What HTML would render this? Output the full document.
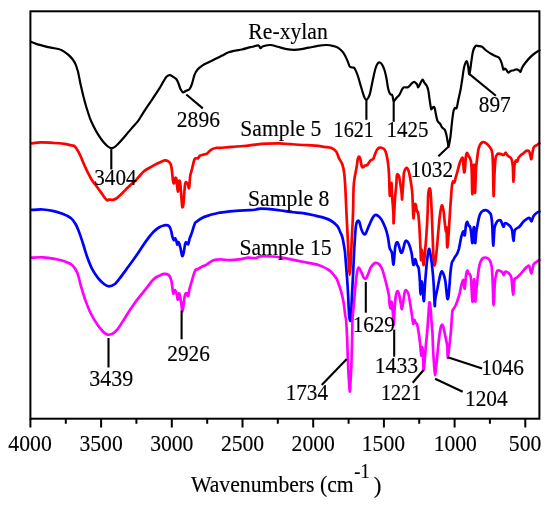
<!DOCTYPE html>
<html><head><meta charset="utf-8"><style>
html,body{margin:0;padding:0;background:#fff;}
svg{display:block;}
text{font-family:"Liberation Serif",serif;font-size:23px;fill:#000;stroke:#000;stroke-width:0.15px;}
</style></head><body>
<svg width="550" height="506" viewBox="0 0 550 506">
<rect width="550" height="506" fill="#fff"/>

<path fill="none" stroke="#000" stroke-width="2.2" stroke-linejoin="round" stroke-linecap="round" d="M31.0,41.8C31.8,42.1 33.6,42.9 35.6,43.6C37.6,44.3 40.8,45.2 43.3,45.9C45.8,46.6 48.4,47.2 50.9,47.7C53.4,48.2 56.6,48.5 58.5,49.0C60.4,49.5 61.1,49.9 62.4,50.6C63.7,51.3 64.9,52.2 66.2,53.2C67.5,54.2 68.8,55.2 70.0,56.4C71.2,57.6 72.2,58.8 73.2,60.2C74.2,61.6 75.0,63.1 75.7,64.6C76.4,66.1 76.8,68.0 77.2,69.3C77.6,70.6 77.6,70.0 78.2,72.5C78.8,75.0 79.7,80.4 80.6,84.4C81.5,88.4 82.5,92.9 83.5,96.7C84.5,100.5 85.2,103.4 86.3,107.0C87.4,110.6 88.8,115.0 90.0,118.3C91.2,121.6 92.4,123.9 93.8,126.7C95.2,129.5 96.9,132.7 98.5,135.2C100.1,137.7 101.6,139.9 103.2,141.8C104.8,143.7 106.5,145.4 107.9,146.5C109.3,147.6 110.5,148.2 111.7,148.2C113.0,148.2 114.0,147.6 115.4,146.5C116.8,145.4 118.4,143.7 120.1,141.8C121.8,139.9 123.9,137.4 125.8,135.2C127.7,133.0 129.4,130.9 131.4,128.6C133.4,126.2 136.1,123.6 138.0,121.1C139.9,118.6 141.0,116.3 142.7,113.6C144.4,110.9 146.4,107.9 148.3,105.1C150.2,102.3 152.1,99.5 154.0,96.7C155.9,93.9 158.0,90.7 159.6,88.2C161.2,85.7 162.2,83.6 163.3,81.7C164.5,79.8 165.4,77.9 166.5,76.8C167.6,75.7 168.7,75.2 169.8,75.2C170.9,75.2 172.0,76.1 173.1,76.8C174.2,77.5 175.4,78.1 176.4,79.3C177.4,80.5 178.1,82.6 178.8,84.2C179.5,85.8 179.8,87.7 180.5,89.1C181.2,90.5 182.0,92.1 182.9,92.4C183.8,92.7 185.1,91.2 186.2,90.7C187.3,90.2 188.6,90.2 189.5,89.1C190.4,88.0 191.1,86.5 191.9,84.2C192.7,81.9 193.5,77.7 194.4,75.2C195.3,72.8 196.2,71.1 197.6,69.5C199.0,67.9 200.7,66.6 202.6,65.4C204.5,64.2 206.9,63.2 209.1,62.1C211.3,61.0 213.4,59.9 215.6,58.8C217.8,57.7 220.0,56.6 222.2,55.5C224.4,54.4 226.5,53.1 228.7,52.3C230.9,51.5 233.1,51.1 235.3,50.6C237.5,50.1 239.6,50.0 241.8,49.5C244.0,49.0 246.7,48.1 248.4,47.6C250.2,47.1 250.7,47.2 252.3,46.8C254.0,46.4 256.9,45.1 258.3,45.3C259.7,45.5 259.7,47.9 260.5,48.1C261.3,48.3 261.5,46.8 263.2,46.3C264.9,45.8 268.1,44.9 270.5,45.0C272.9,45.1 275.0,46.1 277.7,46.8C280.4,47.5 284.1,48.7 286.8,49.2C289.5,49.7 291.7,49.9 294.1,49.9C296.5,49.9 299.0,49.6 301.4,49.2C303.8,48.8 305.9,48.2 308.6,47.7C311.3,47.2 314.7,46.4 317.7,45.9C320.7,45.4 324.1,44.9 326.8,45.0C329.5,45.1 332.1,45.8 334.1,46.3C336.1,46.8 337.2,47.2 338.6,48.1C340.0,49.0 341.2,50.2 342.3,51.4C343.4,52.6 344.1,53.8 345.0,55.5C345.9,57.2 347.0,59.8 347.8,61.6C348.6,63.5 349.0,65.6 349.8,66.6C350.6,67.6 351.9,67.2 352.7,67.5C353.5,67.8 353.9,67.2 354.7,68.5C355.5,69.8 356.7,72.7 357.7,75.5C358.7,78.3 359.6,82.0 360.6,85.3C361.6,88.6 362.7,92.8 363.6,95.2C364.5,97.6 365.2,99.6 366.2,99.6C367.2,99.6 368.4,98.2 369.5,95.2C370.6,92.2 371.5,85.9 372.5,81.4C373.5,77.0 374.5,71.6 375.5,68.5C376.5,65.4 377.4,63.4 378.4,62.6C379.4,61.8 380.4,62.5 381.4,63.6C382.4,64.8 383.5,67.2 384.3,69.5C385.1,71.8 385.6,74.1 386.3,77.4C387.0,80.7 387.6,86.5 388.3,89.3C389.0,92.1 389.6,93.2 390.3,94.2C391.0,95.2 391.8,94.1 392.3,95.2C392.9,96.3 393.0,100.6 393.6,101.1C394.2,101.6 395.3,99.2 396.2,98.2C397.1,97.2 398.2,96.7 399.2,95.2C400.2,93.7 401.3,90.6 402.1,89.3C402.9,88.0 403.1,87.6 404.1,87.3C405.1,87.0 406.9,87.8 408.0,87.3C409.1,86.8 410.0,85.2 411.0,84.3C412.0,83.4 413.0,81.8 414.0,81.8C415.0,81.8 416.3,83.4 417.0,84.3C417.7,85.2 417.6,87.3 418.0,87.4C418.4,87.5 418.9,86.3 419.6,85.0C420.3,83.7 421.6,80.2 422.4,79.8C423.2,79.4 423.6,81.6 424.3,82.6C425.0,83.6 426.0,84.5 426.7,85.8C427.4,87.1 427.9,88.4 428.3,90.5C428.8,92.6 429.0,95.8 429.4,98.4C429.8,101.0 430.3,104.5 430.6,106.3C430.9,108.1 431.0,109.4 431.4,109.5C431.8,109.6 432.5,107.4 433.0,107.1C433.5,106.8 434.1,106.5 434.6,107.9C435.1,109.4 435.7,113.6 436.2,115.8C436.7,118.0 437.0,120.0 437.7,121.3C438.4,122.6 439.4,122.8 440.1,123.7C440.8,124.6 441.2,126.1 441.7,126.9C442.2,127.7 442.8,128.0 443.3,128.5C443.8,129.0 444.4,128.9 444.9,130.0C445.4,131.1 445.9,132.6 446.4,134.8C446.9,137.1 447.6,141.6 448.0,143.5C448.4,145.4 448.2,147.6 448.6,146.5C449.0,145.4 449.8,141.1 450.4,137.0C451.0,132.9 451.5,126.4 452.0,122.1C452.5,117.8 453.0,113.5 453.5,111.1C454.0,108.7 454.6,108.4 455.1,107.9C455.6,107.4 456.2,109.2 456.7,107.9C457.2,106.6 457.6,103.2 458.3,100.0C459.0,96.8 460.1,92.4 460.7,89.0C461.3,85.6 461.6,83.0 462.2,79.5C462.8,76.0 463.3,70.8 464.0,67.7C464.7,64.7 465.8,61.5 466.5,61.2C467.2,60.9 467.6,63.9 468.1,66.1C468.6,68.3 468.8,75.1 469.4,74.3C469.9,73.5 470.8,65.0 471.4,61.2C472.0,57.4 472.3,53.9 473.0,51.4C473.7,48.9 474.6,47.0 475.5,46.1C476.4,45.2 477.6,46.0 478.7,46.1C479.8,46.2 480.8,46.1 482.0,46.8C483.2,47.5 484.6,49.3 486.1,50.5C487.6,51.7 489.4,52.8 491.0,53.8C492.6,54.8 494.5,55.6 495.9,56.3C497.3,57.0 498.2,56.8 499.2,57.9C500.1,59.0 500.9,60.9 501.6,62.8C502.3,64.7 502.8,68.4 503.3,69.4C503.9,70.4 504.3,68.5 504.9,68.6C505.4,68.7 506.1,69.5 506.6,70.2C507.2,70.9 507.5,72.5 508.2,72.6C508.9,72.7 509.7,71.4 510.6,71.0C511.6,70.6 512.9,70.5 513.9,70.2C514.9,69.9 515.6,69.4 516.4,69.4C517.2,69.4 518.1,69.8 518.8,70.2C519.5,70.6 520.0,72.2 520.5,71.8C521.0,71.4 521.3,69.2 522.1,67.7C522.9,66.2 524.0,64.6 525.4,62.8C526.8,61.0 528.7,58.7 530.3,57.1C531.9,55.5 533.7,54.1 535.2,53.0C536.7,51.9 538.7,50.8 539.4,50.4"/>
<path fill="none" stroke="#ff0000" stroke-width="2.7" stroke-linejoin="round" stroke-linecap="round" d="M31.9,143.4C33.4,143.2 37.0,142.4 40.8,142.3C44.6,142.2 50.6,142.8 54.6,143.0C58.6,143.2 61.9,143.5 64.5,143.8C67.1,144.2 68.4,144.8 70.0,145.1C71.6,145.4 72.8,145.2 73.9,145.8C75.0,146.4 75.6,147.2 76.4,148.4C77.2,149.6 78.1,151.2 79.0,152.9C79.9,154.6 80.8,156.7 81.6,158.6C82.4,160.5 83.2,162.5 84.1,164.4C84.9,166.3 85.8,168.4 86.7,170.2C87.6,172.0 88.3,173.5 89.3,175.3C90.3,177.1 91.5,179.6 92.5,181.1C93.5,182.6 94.1,183.0 95.1,184.3C96.1,185.6 97.1,187.2 98.3,188.8C99.5,190.4 100.9,192.4 102.1,194.0C103.3,195.6 104.4,197.4 105.3,198.5C106.2,199.6 106.8,200.2 107.3,200.4C107.8,200.6 107.8,199.7 108.6,199.6C109.4,199.5 111.1,200.0 112.4,199.8C113.7,199.6 115.0,199.2 116.3,198.5C117.6,197.8 118.8,196.5 120.1,195.3C121.4,194.1 122.7,192.7 124.0,191.4C125.3,190.1 126.5,188.8 127.8,187.6C129.1,186.4 130.2,185.2 131.5,184.0C132.8,182.8 133.8,182.5 135.8,180.4C137.8,178.3 141.1,173.8 143.7,171.5C146.3,169.2 149.0,168.1 151.6,166.6C154.2,165.1 157.3,163.6 159.5,162.6C161.7,161.6 163.2,160.6 164.7,160.4C166.2,160.2 167.3,160.7 168.3,161.3C169.3,161.9 170.1,162.7 170.7,164.2C171.3,165.7 171.5,167.4 171.9,170.2C172.3,173.0 172.6,178.6 173.0,180.8C173.4,183.0 173.8,183.7 174.2,183.2C174.6,182.7 175.0,178.4 175.4,177.9C175.8,177.4 176.2,177.9 176.6,180.2C177.0,182.5 177.4,191.3 177.8,191.5C178.2,191.7 178.6,182.8 179.0,181.4C179.4,180.0 179.8,180.5 180.2,183.2C180.6,185.9 181.1,193.4 181.4,197.4C181.8,201.4 182.0,205.9 182.3,206.9C182.7,207.9 183.1,207.0 183.5,203.4C183.9,199.8 184.5,189.2 184.9,185.6C185.3,182.0 185.6,182.2 186.1,182.0C186.6,181.8 187.4,183.4 187.9,184.4C188.4,185.4 188.7,189.4 189.1,188.0C189.5,186.6 189.7,179.3 190.2,176.1C190.7,172.9 191.3,171.8 192.0,169.0C192.7,166.2 193.7,161.3 194.4,159.5C195.1,157.7 195.6,158.5 196.2,158.3C196.8,158.1 197.4,158.7 198.0,158.3C198.6,157.9 198.9,156.5 199.7,155.9C200.5,155.3 201.8,155.1 203.0,154.7C204.2,154.3 205.7,154.5 207.0,153.7C208.3,152.9 209.3,150.8 210.9,149.8C212.5,148.8 215.3,148.1 216.8,147.8C218.3,147.5 217.5,148.1 220.0,147.9C222.5,147.7 228.0,147.1 231.9,146.8C235.8,146.5 239.8,146.4 243.7,146.0C247.6,145.6 251.7,145.0 255.6,144.6C259.6,144.2 263.4,143.9 267.4,143.7C271.3,143.5 275.4,143.3 279.3,143.4C283.2,143.5 287.2,143.9 291.1,144.2C295.1,144.5 299.0,144.8 303.0,145.0C307.0,145.2 311.3,145.3 314.9,145.6C318.4,145.9 321.5,146.4 324.3,146.8C327.1,147.2 329.5,147.1 331.5,147.9C333.5,148.7 335.0,149.9 336.2,151.5C337.4,153.1 338.0,156.0 338.6,157.4C339.2,158.8 339.4,158.8 340.0,160.0C340.6,161.2 341.7,162.3 342.4,164.5C343.1,166.7 343.7,169.4 344.2,173.2C344.7,177.0 344.9,180.7 345.3,187.4C345.7,194.2 346.1,205.4 346.5,213.7C346.9,222.0 347.2,227.2 347.7,237.4C348.2,247.6 349.0,274.8 349.7,274.8C350.4,274.8 351.3,247.6 351.9,237.4C352.4,227.2 352.7,222.0 353.0,213.7C353.3,205.4 353.3,193.6 353.6,187.4C353.9,181.2 354.3,180.2 354.8,176.8C355.3,173.5 356.1,170.3 356.6,167.3C357.1,164.3 357.4,160.8 357.8,159.0C358.2,157.2 358.6,156.7 359.0,156.6C359.4,156.5 359.7,156.7 360.2,158.4C360.7,160.1 361.3,165.3 361.9,166.7C362.5,168.1 363.2,166.9 363.7,166.7C364.2,166.5 364.3,165.8 364.9,165.5C365.5,165.2 366.6,165.4 367.3,164.9C368.0,164.4 368.4,163.3 369.0,162.5C369.6,161.7 370.1,160.8 370.8,160.2C371.5,159.6 372.5,160.0 373.2,159.0C373.9,158.0 374.4,155.7 375.0,154.2C375.6,152.7 376.1,151.2 376.8,150.1C377.5,149.0 378.3,148.1 379.1,147.7C379.9,147.3 380.7,147.5 381.5,147.7C382.3,147.9 383.2,148.2 383.9,148.9C384.6,149.6 385.1,150.2 385.7,151.9C386.3,153.6 386.9,156.2 387.4,159.0C387.9,161.8 388.3,165.2 388.6,168.5C388.9,171.8 389.0,174.6 389.2,179.1C389.4,183.6 389.5,194.7 389.8,195.7C390.1,196.7 390.7,187.1 391.0,185.1C391.3,183.1 391.4,181.9 391.6,183.9C391.8,185.9 391.9,191.9 392.2,196.9C392.5,201.9 393.2,209.3 393.4,213.7C393.6,218.1 393.4,224.2 393.6,223.2C393.8,222.2 394.2,212.2 394.5,207.8C394.8,203.5 394.8,200.9 395.1,197.1C395.4,193.3 396.0,188.6 396.3,185.0C396.6,181.4 396.5,177.4 396.8,175.6C397.1,173.8 397.6,174.2 398.0,174.4C398.4,174.6 398.8,175.2 399.2,176.8C399.6,178.4 399.9,181.4 400.3,183.9C400.7,186.4 401.2,189.4 401.5,192.0C401.8,194.6 401.9,199.8 402.1,199.5C402.3,199.2 402.5,192.8 402.7,190.0C402.9,187.2 403.1,185.5 403.3,182.7C403.5,179.9 403.5,175.6 403.9,173.2C404.3,170.8 405.1,169.3 405.7,168.5C406.3,167.7 406.9,167.7 407.5,168.5C408.1,169.3 408.6,170.8 409.2,173.2C409.8,175.6 410.5,179.5 411.0,182.7C411.5,185.9 411.9,188.6 412.2,192.2C412.5,195.8 412.6,199.8 412.8,204.2C413.0,208.6 413.1,218.3 413.4,218.5C413.7,218.7 414.2,207.7 414.6,205.4C415.0,203.1 415.4,203.8 415.8,204.8C416.2,205.8 416.5,210.0 416.9,211.3C417.3,212.6 417.7,210.1 418.1,212.5C418.5,214.9 418.9,220.2 419.3,225.6C419.7,231.0 420.0,239.3 420.3,245.0C420.6,250.7 420.8,259.2 421.0,260.0C421.2,260.8 421.6,250.8 421.8,250.0C422.1,249.2 422.2,252.5 422.5,255.0C422.8,257.5 423.2,264.5 423.5,265.0C423.8,265.5 424.2,260.5 424.5,258.0C424.8,255.5 424.9,253.8 425.2,250.0C425.5,246.2 426.0,241.1 426.4,235.0C426.8,228.9 427.3,220.4 427.6,213.7C427.9,207.0 427.9,199.2 428.2,195.0C428.5,190.8 429.0,189.1 429.4,188.6C429.8,188.1 430.2,188.0 430.6,192.2C431.0,196.4 431.3,202.8 431.8,213.7C432.3,224.6 433.0,249.2 433.5,257.8C434.0,266.4 434.3,265.5 434.7,265.5C435.1,265.5 435.5,261.1 435.9,257.8C436.3,254.5 436.7,250.3 437.1,245.9C437.5,241.5 437.8,236.9 438.3,231.5C438.8,226.1 439.5,218.0 440.1,213.7C440.7,209.3 441.2,205.8 441.8,205.4C442.4,205.0 443.1,208.3 443.6,211.3C444.1,214.3 444.4,219.8 444.8,223.2C445.2,226.6 445.7,230.7 446.0,231.5C446.3,232.3 446.4,225.4 446.6,228.0C446.8,230.6 446.9,245.5 447.2,247.1C447.5,248.7 448.0,242.0 448.4,237.4C448.8,232.8 449.1,225.5 449.5,219.6C449.9,213.7 450.3,207.4 450.7,201.9C451.1,196.4 451.5,189.8 451.9,186.4C452.3,183.0 452.7,181.9 453.1,181.3C453.5,180.7 454.0,183.2 454.4,182.6C454.8,181.9 455.2,179.3 455.7,177.4C456.2,175.5 457.0,173.3 457.6,171.0C458.2,168.7 459.0,165.3 459.6,163.3C460.2,161.3 461.0,159.7 461.5,158.8C462.0,157.9 462.5,157.1 462.8,158.1C463.1,159.1 463.2,162.2 463.4,164.6C463.6,167.0 463.8,171.7 464.1,172.3C464.4,172.9 464.7,171.2 465.0,168.4C465.3,165.6 465.6,158.2 466.0,155.6C466.4,153.0 466.9,152.9 467.3,153.0C467.7,153.1 468.2,155.3 468.6,156.2C469.0,157.0 469.5,157.1 469.9,158.1C470.3,159.1 470.8,159.4 471.1,162.0C471.4,164.6 471.6,168.2 471.8,173.6C472.0,178.9 472.1,194.8 472.4,194.1C472.7,193.4 473.1,174.3 473.4,169.7C473.7,165.1 474.0,162.7 474.3,166.5C474.6,170.3 474.7,192.3 475.0,192.8C475.3,193.3 475.7,175.0 476.0,169.7C476.3,164.3 476.5,163.9 476.9,160.7C477.3,157.5 477.7,153.1 478.2,150.4C478.7,147.7 479.4,146.0 480.1,144.6C480.9,143.2 481.8,142.4 482.7,142.1C483.6,141.8 484.4,142.3 485.3,142.7C486.2,143.1 487.0,143.7 487.8,144.6C488.6,145.5 489.6,146.5 490.4,147.9C491.1,149.3 491.9,149.8 492.3,153.0C492.7,156.2 492.8,159.9 493.0,167.1C493.2,174.3 493.4,195.0 493.6,196.1C493.9,197.2 494.2,179.9 494.5,173.6C494.8,167.3 495.2,161.2 495.6,158.1C496.0,155.0 496.4,155.8 496.8,155.0C497.2,154.2 497.5,153.8 498.2,153.6C498.9,153.4 500.0,153.9 500.9,154.1C501.8,154.3 502.8,155.2 503.6,155.0C504.4,154.8 505.0,152.8 505.5,152.7C506.0,152.6 506.3,153.9 506.8,154.5C507.3,155.1 508.0,155.9 508.6,156.4C509.2,156.9 510.0,157.1 510.5,157.7C511.0,158.3 511.4,158.6 511.8,160.0C512.2,161.4 512.5,162.4 512.8,166.0C513.1,169.6 513.2,181.8 513.5,181.6C513.8,181.4 514.1,168.5 514.5,165.0C514.9,161.5 515.4,161.1 515.9,160.5C516.4,159.9 516.8,161.9 517.3,161.4C517.8,160.9 518.0,158.8 518.6,157.7C519.2,156.6 520.1,155.8 520.9,155.0C521.7,154.2 522.7,153.9 523.6,153.2C524.5,152.5 525.5,151.2 526.4,150.9C527.3,150.6 528.4,150.5 529.1,151.4C529.8,152.3 530.1,155.1 530.5,156.4C530.9,157.7 531.1,159.6 531.4,159.1C531.7,158.6 531.9,155.5 532.3,153.6C532.7,151.7 533.1,149.0 533.6,147.7C534.1,146.4 534.7,146.5 535.5,145.9C536.3,145.3 537.6,144.5 538.2,144.1C538.9,143.7 539.2,143.6 539.4,143.5"/>
<path fill="none" stroke="#0000ff" stroke-width="2.7" stroke-linejoin="round" stroke-linecap="round" d="M31.9,209.9C33.7,209.8 39.3,209.3 42.8,209.5C46.3,209.7 49.4,210.2 52.7,210.9C56.0,211.6 59.5,212.7 62.5,213.8C65.5,215.0 68.3,216.2 70.5,217.8C72.7,219.5 73.9,221.2 75.4,223.7C76.9,226.2 78.0,229.1 79.3,232.6C80.6,236.1 82.0,240.4 83.3,244.5C84.6,248.6 85.8,253.2 87.3,257.3C88.8,261.4 90.4,265.7 92.2,269.2C94.0,272.7 96.1,275.6 98.1,278.1C100.1,280.6 102.2,282.6 104.0,284.0C105.8,285.4 107.2,286.4 109.0,286.4C110.8,286.4 113.1,285.4 114.9,284.0C116.7,282.6 117.7,280.9 119.9,278.1C122.1,275.3 124.9,271.4 127.9,267.3C130.9,263.2 134.8,257.8 137.8,253.5C140.8,249.2 143.1,245.2 145.7,241.6C148.3,238.0 151.2,234.1 153.6,231.7C156.0,229.2 158.3,227.9 160.0,226.9C161.7,225.9 162.7,225.7 164.0,225.4C165.3,225.2 166.9,225.1 167.9,225.4C168.9,225.7 169.3,226.3 169.9,227.4C170.5,228.5 171.0,230.2 171.4,231.8C171.8,233.4 172.0,235.3 172.4,236.7C172.8,238.1 173.3,239.9 173.8,240.2C174.3,240.4 174.9,238.1 175.3,238.2C175.7,238.3 176.0,239.6 176.3,240.7C176.6,241.8 177.0,244.3 177.3,244.6C177.6,244.8 178.0,242.3 178.3,242.2C178.6,242.0 178.9,242.5 179.3,243.7C179.7,244.9 180.3,247.5 180.8,249.6C181.3,251.7 181.7,255.5 182.2,256.0C182.7,256.5 183.2,254.6 183.7,252.5C184.2,250.4 184.8,245.4 185.2,243.7C185.6,242.0 185.7,242.1 186.2,242.2C186.7,242.3 187.6,244.8 188.2,244.2C188.8,243.6 189.1,240.3 189.6,238.7C190.1,237.1 190.5,236.5 191.1,234.8C191.7,233.2 192.4,230.8 193.1,228.8C193.8,226.8 194.4,224.1 195.1,222.9C195.8,221.7 196.4,221.9 197.1,221.4C197.8,220.9 198.0,220.6 199.0,219.9C200.0,219.2 201.7,218.2 203.0,217.5C204.3,216.8 205.7,216.4 207.0,216.0C208.3,215.6 209.3,215.2 210.9,214.8C212.5,214.4 214.9,213.7 216.8,213.3C218.7,212.9 219.1,212.7 222.3,212.3C225.5,211.9 231.4,211.2 235.9,210.9C240.4,210.6 246.2,210.4 249.5,210.2C252.8,210.0 254.2,209.8 256.0,209.5C257.8,209.2 257.3,208.7 260.4,208.7C263.5,208.7 269.4,209.0 274.5,209.6C279.6,210.2 286.4,211.4 291.1,212.0C295.9,212.6 299.0,212.6 303.0,213.2C307.0,213.8 311.3,214.7 314.9,215.5C318.4,216.3 321.5,217.0 324.3,217.9C327.1,218.8 329.3,219.6 331.5,221.0C333.7,222.4 336.0,224.4 337.4,226.2C338.8,227.9 339.2,229.6 340.0,231.5C340.8,233.4 341.6,234.3 342.4,237.4C343.2,240.5 344.2,246.9 344.7,250.0C345.2,253.1 344.8,249.6 345.3,255.8C345.8,262.0 347.1,277.4 347.7,287.4C348.3,297.4 348.7,310.5 349.2,315.9C349.7,321.3 350.5,321.9 350.9,319.8C351.3,317.7 351.2,311.2 351.6,303.2C352.0,295.2 352.7,281.3 353.2,271.6C353.7,261.9 354.0,252.7 354.5,245.0C355.0,237.3 355.4,229.6 356.0,225.6C356.6,221.6 357.2,221.3 357.8,220.8C358.4,220.3 359.0,221.2 359.6,222.6C360.2,224.0 360.6,227.2 361.3,229.1C362.0,231.0 363.0,233.1 363.7,233.9C364.4,234.7 364.9,234.6 365.5,233.9C366.1,233.2 366.6,231.3 367.3,229.7C368.0,228.1 368.8,226.2 369.6,224.4C370.4,222.6 371.2,220.5 372.0,219.0C372.8,217.5 373.6,216.2 374.4,215.5C375.2,214.8 376.0,214.9 376.8,215.1C377.6,215.3 378.3,215.9 379.1,216.7C379.9,217.4 380.7,218.3 381.5,219.6C382.3,220.9 383.1,222.6 383.9,224.4C384.7,226.2 385.5,228.1 386.2,230.3C386.9,232.5 387.4,234.5 388.0,237.4C388.6,240.3 389.0,245.4 389.6,247.9C390.2,250.4 391.2,249.8 391.9,252.6C392.5,255.4 393.0,265.3 393.5,264.5C394.0,263.7 394.6,251.6 395.1,247.9C395.7,244.2 396.2,242.9 396.8,242.4C397.4,241.9 397.9,243.0 398.6,244.7C399.3,246.4 400.2,251.5 400.9,252.5C401.6,253.5 402.0,252.5 402.7,250.7C403.4,248.9 404.4,243.4 405.1,241.8C405.8,240.2 406.2,240.7 406.9,241.2C407.6,241.7 408.4,242.7 409.2,244.7C410.0,246.7 410.9,249.6 411.6,253.0C412.3,256.4 412.8,263.9 413.4,264.9C414.0,265.9 414.6,259.0 415.2,259.0C415.8,259.0 416.3,263.3 416.9,264.9C417.5,266.5 418.2,265.7 418.7,268.5C419.2,271.3 419.6,277.2 419.9,281.5C420.2,285.8 420.2,294.5 420.5,294.5C420.8,294.5 421.3,282.1 421.7,281.5C422.1,280.9 422.6,288.0 422.9,291.0C423.2,294.0 423.3,298.1 423.5,299.5C423.7,300.9 423.8,302.3 424.1,299.3C424.4,296.3 424.7,287.8 425.2,281.5C425.7,275.2 426.4,266.6 427.0,261.3C427.6,256.0 428.3,251.1 428.8,249.5C429.3,247.9 429.5,249.5 430.0,251.9C430.5,254.3 431.2,258.8 431.8,263.7C432.4,268.6 433.0,274.6 433.5,281.5C434.0,288.4 434.4,302.4 434.7,305.4C435.0,308.4 434.8,302.3 435.3,299.3C435.8,296.3 436.9,291.3 437.7,287.4C438.5,283.4 439.4,278.3 440.1,275.6C440.8,272.9 441.2,271.6 441.8,271.4C442.4,271.2 443.0,272.7 443.6,274.4C444.2,276.1 444.8,277.6 445.4,281.5C446.0,285.4 446.7,295.1 447.2,297.7C447.7,300.3 448.0,299.0 448.4,296.9C448.8,294.8 449.1,289.1 449.5,285.0C449.9,280.9 450.1,275.7 450.5,272.0C450.9,268.3 451.4,264.9 451.8,263.0C452.2,261.1 452.6,261.5 453.1,260.4C453.7,259.3 454.5,257.7 455.1,256.6C455.8,255.5 456.4,255.3 457.0,254.0C457.6,252.7 458.2,251.4 458.9,248.8C459.5,246.2 460.4,241.1 460.9,238.6C461.4,236.1 461.7,235.3 462.1,234.1C462.5,232.9 463.0,231.3 463.4,231.5C463.8,231.7 464.3,236.4 464.7,235.3C465.1,234.2 465.6,227.3 466.0,225.1C466.4,222.9 466.9,221.8 467.3,221.9C467.7,222.0 468.2,224.9 468.6,225.7C469.0,226.4 469.5,225.3 469.9,226.4C470.3,227.5 470.7,229.3 471.1,232.1C471.5,234.9 472.0,243.5 472.4,243.1C472.8,242.7 473.1,232.1 473.4,229.6C473.7,227.1 474.0,226.1 474.3,228.3C474.6,230.6 474.9,242.5 475.2,243.1C475.5,243.7 475.8,235.8 476.3,232.1C476.8,228.4 477.6,224.2 478.2,221.2C478.8,218.2 479.4,215.8 480.1,214.1C480.9,212.4 481.6,211.5 482.7,210.9C483.8,210.3 485.5,210.1 486.6,210.3C487.7,210.5 488.4,211.3 489.1,212.2C489.9,213.0 490.6,213.2 491.1,215.4C491.6,217.7 492.0,220.7 492.3,225.7C492.6,230.7 492.8,245.2 493.2,245.6C493.6,246.0 494.0,232.1 494.5,228.3C495.0,224.6 495.6,224.4 496.2,223.1C496.8,221.8 497.2,221.0 498.0,220.6C498.8,220.2 499.8,219.5 500.7,220.5C501.6,221.5 502.7,226.3 503.4,226.7C504.1,227.1 504.2,223.4 505.1,223.1C506.0,222.8 507.6,223.9 508.7,224.9C509.8,225.9 511.1,226.6 511.9,229.3C512.7,232.0 513.0,240.8 513.5,240.9C514.0,241.1 513.9,232.6 514.9,230.2C515.9,227.8 517.9,228.2 519.4,226.7C520.9,225.2 522.2,222.8 523.8,221.3C525.4,219.8 527.9,217.8 529.2,217.8C530.5,217.8 530.8,221.6 531.5,221.3C532.2,221.0 532.6,217.5 533.6,216.0C534.6,214.5 536.2,213.2 537.2,212.5C538.2,211.8 539.0,211.7 539.4,211.5"/>
<path fill="none" stroke="#ff00ff" stroke-width="2.7" stroke-linejoin="round" stroke-linecap="round" d="M31.9,257.7C33.7,257.6 39.0,257.1 42.8,257.3C46.6,257.5 51.0,258.2 54.6,258.9C58.2,259.6 61.5,260.2 64.5,261.3C67.5,262.4 70.2,263.2 72.4,265.2C74.6,267.2 76.0,269.7 77.4,273.1C78.8,276.5 79.5,281.1 80.9,285.8C82.3,290.6 84.2,297.0 85.9,301.6C87.6,306.2 89.0,309.9 90.8,313.5C92.6,317.1 94.7,320.4 96.7,323.4C98.7,326.4 100.9,329.4 102.7,331.3C104.5,333.2 106.0,334.2 107.6,334.6C109.2,335.0 110.8,334.5 112.5,333.6C114.2,332.7 115.7,331.5 117.5,329.3C119.3,327.1 121.3,323.7 123.4,320.4C125.5,317.1 127.9,313.1 130.3,309.5C132.7,305.9 135.2,302.3 137.8,298.9C140.4,295.5 143.1,292.4 145.7,289.1C148.3,285.8 151.2,281.5 153.6,279.2C156.0,276.9 158.3,276.3 160.0,275.4C161.7,274.5 162.8,274.1 164.0,273.9C165.2,273.7 166.0,273.8 166.9,274.1C167.8,274.4 168.7,274.8 169.4,275.9C170.2,277.0 170.9,278.8 171.4,280.8C171.9,282.8 172.1,285.6 172.4,287.7C172.7,289.8 172.9,293.3 173.3,293.7C173.7,294.1 174.4,290.5 174.8,290.2C175.2,289.9 175.5,291.0 175.8,291.7C176.1,292.4 176.5,293.3 176.8,294.6C177.1,295.9 177.5,299.8 177.8,299.6C178.1,299.5 178.5,294.4 178.8,293.7C179.1,292.9 179.5,294.0 179.8,295.1C180.1,296.2 180.5,298.7 180.8,300.6C181.1,302.5 181.5,304.7 181.7,306.5C181.9,308.3 181.9,311.2 182.2,311.4C182.4,311.6 182.9,309.5 183.2,307.5C183.5,305.5 183.9,301.8 184.2,299.6C184.5,297.4 184.8,295.2 185.2,294.1C185.6,293.0 186.2,292.9 186.7,293.2C187.2,293.5 187.7,296.9 188.2,296.1C188.7,295.4 189.0,291.1 189.6,288.7C190.2,286.3 190.9,284.1 191.6,281.8C192.3,279.5 192.9,276.9 193.6,274.9C194.3,272.9 194.9,270.8 195.6,269.9C196.2,269.0 196.8,269.7 197.5,269.4C198.2,269.1 198.6,268.5 199.5,268.0C200.4,267.5 201.8,266.9 203.0,266.3C204.2,265.7 205.3,265.3 207.0,264.3C208.7,263.3 210.7,261.2 212.9,260.4C215.1,259.6 217.2,259.4 220.0,259.4C222.8,259.3 226.3,260.1 229.5,260.1C232.7,260.1 235.8,259.8 239.0,259.4C242.2,259.0 245.7,257.9 248.5,257.7C251.3,257.5 253.6,258.4 255.6,258.2C257.6,258.0 257.5,256.6 260.3,256.3C263.1,256.0 268.6,256.3 272.2,256.5C275.8,256.7 278.5,257.2 281.7,257.7C284.9,258.2 287.6,258.7 291.1,259.4C294.7,260.1 299.0,261.0 303.0,261.8C307.0,262.6 312.2,263.5 314.9,264.1C317.6,264.7 317.6,264.7 319.0,265.2C320.4,265.7 321.6,266.2 323.1,266.9C324.6,267.6 326.6,268.6 328.0,269.5C329.4,270.4 330.3,271.0 331.3,272.0C332.3,273.0 333.3,274.3 334.2,275.5C335.1,276.7 336.0,277.7 336.7,279.0C337.4,280.3 337.6,281.0 338.4,283.2C339.2,285.4 340.4,288.9 341.3,292.2C342.2,295.5 343.0,299.2 343.7,303.2C344.4,307.1 344.9,313.1 345.3,315.9C345.7,318.7 345.8,316.0 346.1,320.0C346.4,324.0 346.9,333.3 347.2,340.0C347.5,346.7 347.6,353.8 347.9,360.0C348.1,366.2 348.4,371.8 348.7,377.0C349.0,382.2 349.5,391.0 349.8,391.5C350.1,392.0 350.3,384.4 350.6,380.0C350.9,375.6 351.2,370.8 351.4,365.0C351.6,359.2 351.8,352.5 352.0,345.0C352.2,337.5 352.2,327.0 352.5,320.0C352.8,313.0 353.5,309.1 354.0,303.2C354.5,297.2 355.1,289.6 355.6,284.3C356.1,279.0 356.7,274.4 357.2,271.6C357.7,268.8 358.0,267.7 358.7,267.7C359.4,267.7 360.3,270.0 361.1,271.6C361.9,273.2 362.7,276.0 363.5,277.2C364.3,278.4 365.0,279.2 365.8,278.7C366.6,278.2 367.4,275.8 368.2,274.0C369.0,272.2 369.7,269.4 370.6,267.7C371.5,266.0 372.9,264.5 373.8,263.7C374.7,262.9 375.2,262.8 376.1,262.9C377.0,263.0 378.2,263.3 379.3,264.5C380.4,265.7 381.5,267.4 382.5,270.0C383.5,272.6 384.5,277.1 385.3,280.0C386.1,282.9 386.5,284.5 387.1,287.1C387.7,289.7 388.5,292.6 388.9,295.4C389.3,298.2 389.2,301.5 389.5,303.7C389.8,305.9 390.4,308.8 390.7,308.5C391.0,308.2 391.1,302.8 391.3,302.0C391.5,301.2 391.6,301.6 391.9,303.7C392.2,305.8 392.7,310.8 393.0,314.4C393.3,318.0 393.4,324.9 393.6,325.1C393.8,325.3 393.9,320.0 394.2,315.6C394.5,311.2 394.9,303.1 395.4,299.0C395.9,294.9 396.6,292.1 397.2,291.3C397.8,290.5 398.4,292.1 399.0,294.2C399.6,296.3 400.3,301.2 400.8,303.7C401.3,306.2 401.5,309.3 401.9,309.1C402.3,308.9 402.6,305.5 403.1,302.5C403.6,299.5 404.3,293.3 404.9,291.3C405.5,289.3 406.1,290.2 406.7,290.7C407.3,291.2 407.9,292.0 408.5,294.2C409.1,296.4 409.6,300.1 410.2,303.7C410.8,307.3 411.5,312.2 412.0,315.6C412.5,319.0 412.8,323.2 413.2,323.9C413.6,324.6 414.0,320.2 414.4,320.0C414.8,319.8 414.9,321.6 415.3,322.4C415.8,323.2 416.5,322.7 417.1,324.7C417.7,326.7 418.4,331.0 418.9,334.2C419.4,337.4 419.7,340.1 420.1,343.7C420.5,347.3 421.0,355.0 421.3,355.6C421.6,356.2 421.6,348.1 421.9,347.3C422.1,346.5 422.5,347.1 422.8,350.8C423.1,354.6 423.3,368.4 423.6,369.8C423.9,371.2 424.4,363.5 424.8,359.1C425.2,354.8 425.6,348.2 426.0,343.7C426.4,339.2 426.8,336.7 427.2,331.9C427.6,327.1 428.0,319.9 428.4,315.0C428.8,310.1 429.0,303.5 429.4,302.5C429.8,301.5 430.3,306.1 430.6,309.0C430.9,311.9 431.1,316.2 431.4,320.0C431.7,323.8 432.1,326.9 432.4,331.9C432.7,336.8 432.8,343.8 433.1,349.7C433.4,355.6 434.0,363.2 434.3,367.5C434.6,371.8 434.8,375.2 435.1,375.2C435.4,375.2 435.7,370.8 436.1,367.5C436.5,364.2 436.8,360.6 437.3,355.6C437.8,350.7 438.5,342.6 439.1,337.8C439.7,333.1 440.3,329.3 440.8,327.1C441.3,324.9 441.6,324.8 442.0,324.7C442.4,324.6 442.7,324.9 443.2,326.5C443.7,328.1 444.4,331.9 444.9,334.2C445.4,336.5 445.8,338.0 446.2,340.2C446.6,342.4 447.1,344.4 447.4,347.3C447.6,350.2 447.4,357.7 447.7,357.9C448.0,358.1 448.6,352.8 449.1,348.5C449.6,344.2 450.4,337.0 450.9,331.9C451.3,326.8 451.5,321.6 451.8,318.0C452.1,314.4 452.2,312.0 452.5,310.4C452.8,308.8 453.3,309.4 453.8,308.5C454.3,307.6 455.1,306.7 455.7,305.3C456.3,303.9 457.0,302.0 457.6,300.1C458.2,298.2 459.1,295.8 459.6,293.7C460.2,291.6 460.5,289.1 460.9,287.3C461.3,285.5 461.7,284.0 462.1,282.8C462.5,281.6 463.0,279.2 463.4,280.2C463.8,281.2 464.3,289.4 464.7,288.6C465.1,287.9 465.6,278.7 466.0,275.7C466.4,272.7 466.9,270.9 467.3,270.6C467.7,270.3 468.2,273.2 468.6,273.8C469.0,274.4 469.5,273.4 469.9,274.4C470.3,275.4 470.7,275.1 471.1,279.6C471.5,284.1 472.0,299.7 472.4,301.4C472.8,303.1 473.1,293.4 473.4,289.8C473.7,286.2 474.0,277.7 474.3,279.6C474.6,281.5 474.8,299.9 475.2,301.4C475.6,302.9 476.0,293.3 476.5,288.6C477.0,283.9 477.6,277.4 478.2,273.1C478.8,268.8 479.4,265.3 480.1,262.9C480.9,260.4 481.6,259.3 482.7,258.4C483.8,257.5 485.4,257.4 486.6,257.7C487.8,258.0 489.0,258.8 489.8,260.3C490.6,261.8 491.2,263.1 491.7,266.7C492.2,270.3 492.4,275.7 492.7,282.1C493.0,288.5 493.2,305.3 493.6,305.3C494.0,305.3 494.4,287.7 494.9,282.1C495.4,276.5 496.3,273.8 496.8,271.9C497.3,270.0 497.5,270.8 498.0,270.6C498.5,270.4 499.1,270.4 499.8,270.7C500.6,271.0 501.9,271.8 502.5,272.5C503.1,273.2 503.2,275.2 503.7,275.1C504.2,275.0 504.7,271.9 505.5,271.6C506.3,271.3 507.7,272.3 508.7,273.3C509.7,274.3 510.7,274.2 511.4,277.8C512.1,281.4 512.6,294.4 513.1,294.7C513.6,295.0 513.8,282.4 514.4,279.6C515.0,276.8 515.6,278.9 516.7,277.8C517.8,276.8 519.5,275.1 521.1,273.3C522.7,271.5 525.1,268.3 526.5,267.1C527.9,265.9 528.4,265.2 529.2,266.2C530.0,267.2 530.8,273.6 531.5,273.3C532.2,273.0 532.5,266.5 533.6,264.4C534.7,262.3 537.0,261.6 538.0,260.9C539.0,260.2 539.2,260.1 539.4,260.0"/>
<line x1="111.3" y1="148.4" x2="111.3" y2="169.5" stroke="#000" stroke-width="2.1"/>
<line x1="186.3" y1="94.5" x2="202.8" y2="108.4" stroke="#000" stroke-width="2.1"/>
<line x1="366.4" y1="99.3" x2="366.4" y2="119.8" stroke="#000" stroke-width="2.1"/>
<line x1="393.7" y1="101.5" x2="393.7" y2="121.8" stroke="#000" stroke-width="2.1"/>
<line x1="469.8" y1="74.4" x2="495.9" y2="95.7" stroke="#000" stroke-width="2.1"/>
<line x1="448.6" y1="146.5" x2="438.4" y2="156.2" stroke="#000" stroke-width="2.1"/>
<line x1="108.5" y1="338.0" x2="108.5" y2="367.5" stroke="#000" stroke-width="2.1"/>
<line x1="181.6" y1="310.6" x2="181.6" y2="339.3" stroke="#000" stroke-width="2.1"/>
<line x1="365.8" y1="281.9" x2="365.8" y2="312.7" stroke="#000" stroke-width="2.1"/>
<line x1="346.8" y1="359.0" x2="321.7" y2="385.0" stroke="#000" stroke-width="2.1"/>
<line x1="394.2" y1="329.6" x2="394.2" y2="356.7" stroke="#000" stroke-width="2.1"/>
<line x1="423.6" y1="370.0" x2="412.7" y2="382.7" stroke="#000" stroke-width="2.1"/>
<line x1="435.1" y1="378.7" x2="462.7" y2="391.8" stroke="#000" stroke-width="2.1"/>
<line x1="447.8" y1="357.3" x2="482.2" y2="368.5" stroke="#000" stroke-width="2.1"/>
<rect x="30.4" y="11.3" width="509.0" height="407.4" fill="none" stroke="#000" stroke-width="2"/>
<path d="M30.4,418.7V427.5M65.8,418.7V423.8M101.1,418.7V427.5M136.4,418.7V423.8M171.8,418.7V427.5M207.2,418.7V423.8M242.5,418.7V427.5M277.8,418.7V423.8M313.2,418.7V427.5M348.6,418.7V423.8M383.9,418.7V427.5M419.2,418.7V423.8M454.6,418.7V427.5M489.9,418.7V423.8M525.3,418.7V427.5" stroke="#000" stroke-width="2" fill="none"/>
<text x="8.30" y="450.60" textLength="43.44" lengthAdjust="spacingAndGlyphs">4000</text>
<text x="79.48" y="450.70" textLength="43.24" lengthAdjust="spacingAndGlyphs">3500</text>
<text x="150.18" y="450.70" textLength="43.24" lengthAdjust="spacingAndGlyphs">3000</text>
<text x="220.88" y="450.70" textLength="43.24" lengthAdjust="spacingAndGlyphs">2500</text>
<text x="291.58" y="450.70" textLength="43.24" lengthAdjust="spacingAndGlyphs">2000</text>
<text x="361.81" y="450.70" textLength="43.24" lengthAdjust="spacingAndGlyphs">1500</text>
<text x="433.63" y="450.80" textLength="43.11" lengthAdjust="spacingAndGlyphs">1000</text>
<text x="508.85" y="450.70" textLength="32.43" lengthAdjust="spacingAndGlyphs">500</text>
<text x="248.36" y="38.70" textLength="79.44" lengthAdjust="spacingAndGlyphs">Re-xylan</text>
<text x="176.86" y="127.20" textLength="43.04" lengthAdjust="spacingAndGlyphs">2896</text>
<text x="333.55" y="136.70" textLength="40.33" lengthAdjust="spacingAndGlyphs">1621</text>
<text x="386.58" y="136.80" textLength="41.93" lengthAdjust="spacingAndGlyphs">1425</text>
<text x="478.77" y="112.30" textLength="31.99" lengthAdjust="spacingAndGlyphs">897</text>
<text x="94.28" y="185.00" textLength="42.22" lengthAdjust="spacingAndGlyphs">3404</text>
<text x="410.55" y="176.60" textLength="42.47" lengthAdjust="spacingAndGlyphs">1032</text>
<text x="240.36" y="136.10" textLength="80.97" lengthAdjust="spacingAndGlyphs">Sample 5</text>
<text x="248.06" y="205.50" textLength="81.28" lengthAdjust="spacingAndGlyphs">Sample 8</text>
<text x="239.46" y="255.10" textLength="92.15" lengthAdjust="spacingAndGlyphs">Sample 15</text>
<text x="352.66" y="331.80" textLength="42.26" lengthAdjust="spacingAndGlyphs">1629</text>
<text x="89.24" y="385.50" textLength="44.01" lengthAdjust="spacingAndGlyphs">3439</text>
<text x="167.28" y="360.70" textLength="42.52" lengthAdjust="spacingAndGlyphs">2926</text>
<text x="285.66" y="400.20" textLength="42.34" lengthAdjust="spacingAndGlyphs">1734</text>
<text x="374.71" y="372.80" textLength="43.43" lengthAdjust="spacingAndGlyphs">1433</text>
<text x="381.06" y="399.80" textLength="40.12" lengthAdjust="spacingAndGlyphs">1221</text>
<text x="481.15" y="375.10" textLength="42.65" lengthAdjust="spacingAndGlyphs">1046</text>
<text x="465.05" y="406.00" textLength="42.65" lengthAdjust="spacingAndGlyphs">1204</text>
<text x="191.00" y="492.30" textLength="162.67" lengthAdjust="spacingAndGlyphs">Wavenumbers (cm</text>
<text x="354.26" y="478.4" style="font-size:22px" textLength="15.40" lengthAdjust="spacingAndGlyphs">-1</text>
<text x="373.7" y="492.6">)</text>
</svg>
</body></html>
